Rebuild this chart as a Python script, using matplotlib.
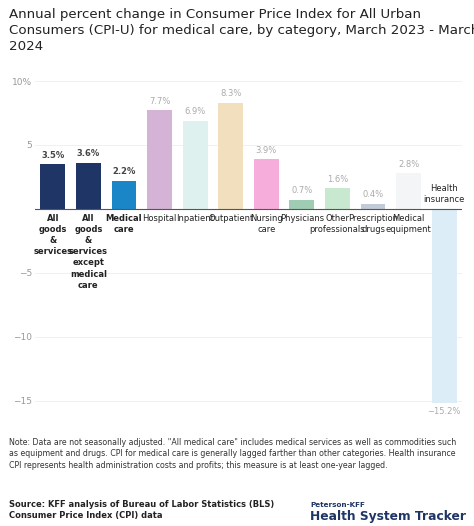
import matplotlib
matplotlib.use("Agg")
import matplotlib.pyplot as plt

categories = ["All\ngoods\n&\nservices", "All\ngoods\n&\nservices\nexcept\nmedical\ncare", "Medical\ncare",
              "Hospital", "Inpatient", "Outpatient", "Nursing\ncare", "Physicians", "Other\nprofessionals",
              "Prescription\ndrugs", "Medical\nequipment", "Health\ninsurance"]
values = [3.5, 3.6, 2.2, 7.7, 6.9, 8.3, 3.9, 0.7, 1.6, 0.4, 2.8, -15.2]
colors = ["#1f3566", "#1f3566", "#1a86c8", "#d5b3d6", "#dff1ee", "#f1dfbd", "#f7addb",
          "#9ecdb3", "#c8e9cf", "#c1cbd6", "#f3f5f7", "#dcedf8"]
bold = [True, True, True] + [False] * 9
yticks = [-15, -10, -5, 0, 5, 10]
yticklabels = ["\u221215", "\u221210", "\u22125", "", "5", "10%"]

fig = plt.figure(figsize=(4.74, 5.26), dpi=100)
ax = fig.add_axes([35/474, 0.209, 427/474, 0.637])
x = list(range(len(values)))
ax.bar(x, values, width=0.7, color=colors, zorder=2)
ax.set_xlim(-0.5, 11.5)
ax.set_ylim(-16.2, 10)
ax.set_yticks(yticks)
ax.set_yticklabels(yticklabels, fontsize=6.5, color="#999999")
ax.tick_params(length=0, pad=2)
ax.set_xticks([])
for s in ax.spines.values():
    s.set_visible(False)
for t in yticks:
    if t != 0:
        ax.axhline(t, color="#eeeeee", lw=0.6, zorder=0)
ax.axhline(0, color="#555555", lw=0.8, zorder=3)

for i, (v, c, b) in enumerate(zip(values, categories, bold)):
    lab = f"{v:.1f}%".replace("-", "\u2212")
    col = "#444444" if b else "#aaaaaa"
    if v >= 0:
        ax.text(i, v + 0.35, lab, ha="center", va="bottom", fontsize=6, color=col,
                fontweight="bold" if b else "normal")
        ax.text(i, -0.4, c, ha="center", va="top", fontsize=6, color="#222222",
                fontweight="bold" if b else "normal", linespacing=1.3)
    else:
        ax.text(i, v - 0.3, lab, ha="center", va="top", fontsize=6, color=col)
        ax.text(i, 0.4, c, ha="center", va="bottom", fontsize=6, color="#222222", linespacing=1.3)

fig.text(0.02, 0.985, "Annual percent change in Consumer Price Index for All Urban\nConsumers (CPI-U) for medical care, by category, March 2023 - March\n2024",
         ha="left", va="top", fontsize=9.6, color="#222222", linespacing=1.3)
fig.text(0.02, 0.168, "Note: Data are not seasonally adjusted. \"All medical care\" includes medical services as well as commodities such\nas equipment and drugs. CPI for medical care is generally lagged farther than other categories. Health insurance\nCPI represents health administration costs and profits; this measure is at least one-year lagged.",
         ha="left", va="top", fontsize=5.7, color="#333333", linespacing=1.35)
fig.text(0.02, 0.05, "Source: KFF analysis of Bureau of Labor Statistics (BLS)\nConsumer Price Index (CPI) data",
         ha="left", va="top", fontsize=6, color="#222222", fontweight="bold", linespacing=1.35)
fig.text(0.655, 0.035, "Peterson-KFF", ha="left", va="bottom", fontsize=5.2, color="#1f3566", fontweight="bold")
fig.text(0.655, 0.006, "Health System Tracker", ha="left", va="bottom", fontsize=8.8, color="#1f3566", fontweight="bold")
fig.savefig("out.png", dpi=100)
